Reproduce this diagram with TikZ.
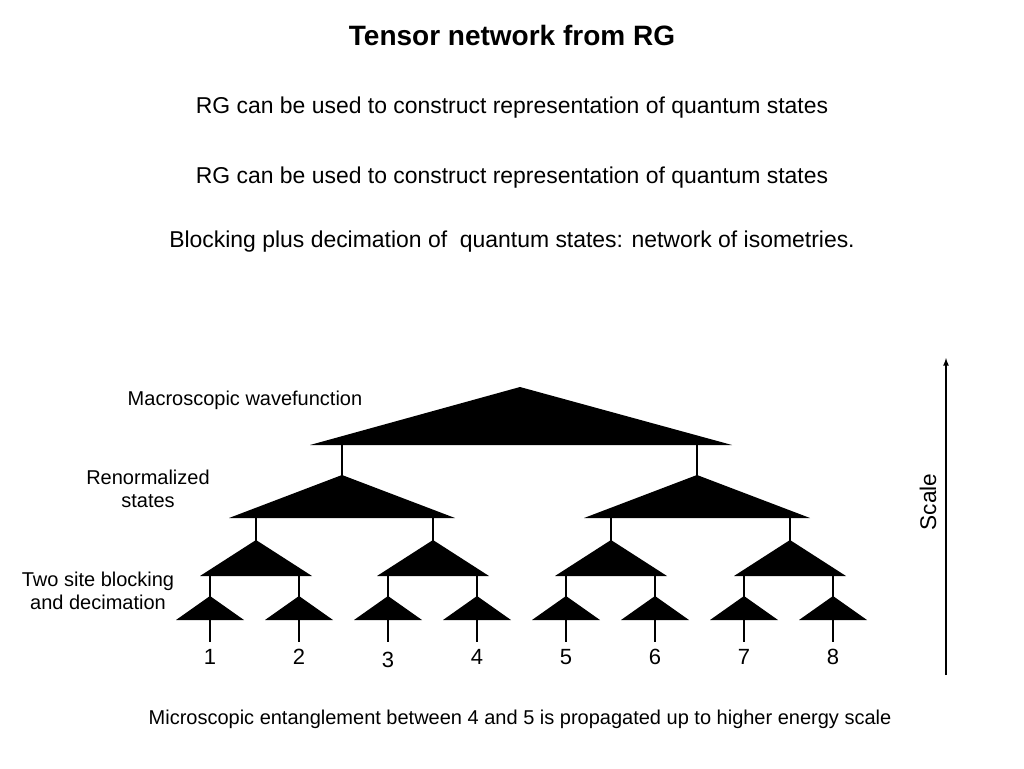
\documentclass[tikz,border=0pt]{standalone}
\usepackage{fontspec}
\setmainfont{Liberation Sans}
\usetikzlibrary{positioning}

\tikzset{
  tri/.style={fill=black},
  leg/.style={line width=1.3pt},
  lbl/.style={font=\fontsize{15}{17.5}\selectfont, align=center}
}

\begin{document}
\begin{tikzpicture}[x=0.75pt,y=-0.75pt]
        \useasboundingbox (0,0) rectangle (1024,768);

        % Header texts
        \node[font=\fontsize{21}{24}\selectfont\bfseries] (title) at (512,35) {Tensor network from RG};
        \node[font=\fontsize{17.2}{20}\selectfont] (line1) at (512,108) {RG can be used to construct representation of quantum states};
        \node[font=\fontsize{17.2}{20}\selectfont] (line2) at (512,178) {RG can be used to construct representation of quantum states};
        \node[font=\fontsize{17.2}{20}\selectfont] (line3) at (512,242) {Blocking plus decimation of\ \ quantum states: network of isometries.};

        % Top tensor
        \fill[tri] (520,387) -- (732,445) -- (310,445) -- cycle;

        % Renormalized level
        \foreach \x in {342, 697} {
            \draw[leg] (\x,445) -- (\x,477);
            \fill[tri] (\x,475) -- (\x+113,518) -- (\x-113,518) -- cycle;
        }

        % Two site blocking level
        \foreach \x in {256, 433, 611, 790} {
            \draw[leg] (\x,517) -- (\x,542);
            \fill[tri] (\x,540) -- (\x+56,576) -- (\x-56,576) -- cycle;
        }

        % Bottom isometries and sites
        \foreach \x/\n/\y in {210/1/657, 299/2/657, 388/3/660, 477/4/657, 566/5/657, 655/6/657, 744/7/657, 833/8/657} {
            \draw[leg] (\x,575) -- (\x,598);
            \fill[tri] (\x,596) -- (\x+34,620) -- (\x-34,620) -- cycle;
            \draw[leg] (\x,619) -- (\x,642);
            \node[font=\fontsize{16.5}{19}\selectfont] (site\n) at (\x,\y) {\n};
        }

        % Side labels
        \node[lbl] (macro) at (245,400) {Macroscopic wavefunction};
        \node[lbl] (renorm) at (148,489) {Renormalized\\states};
        \node[lbl] (block) at (98,591) {Two site blocking\\and decimation};

        % Scale arrow
        \coordinate (sbot) at (946,675);
        \coordinate (stop) at (946,358);
        \draw[-latex, line width=1pt] (sbot) -- (stop);
        \node[lbl, font=\fontsize{17}{20}\selectfont, rotate=90] (scale) at (928,502) {Scale};

        % Bottom text
        \node[lbl] (foot) at (520,719) {Microscopic entanglement between 4 and 5 is propagated up to higher energy scale};
\end{tikzpicture}
\end{document}
